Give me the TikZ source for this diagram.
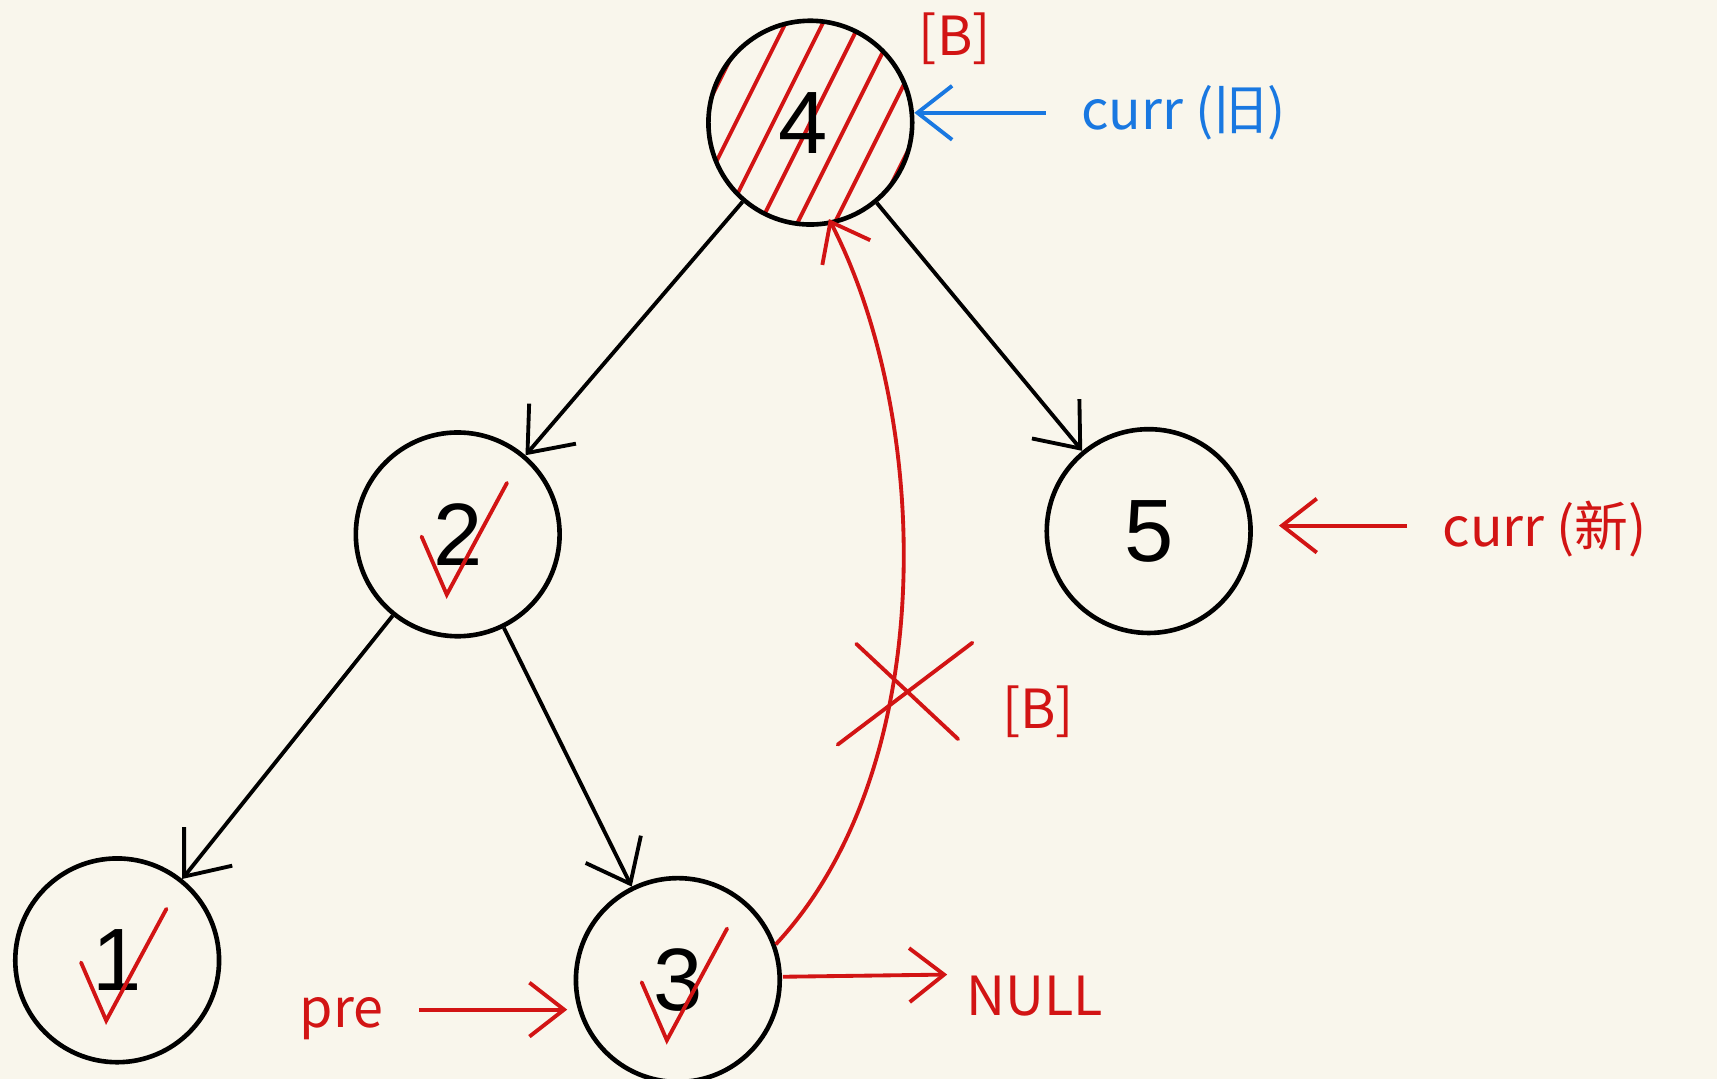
\documentclass[tikz,border=0pt]{standalone}
\usepackage{fontspec}
\setmainfont{Liberation Sans}
\newfontfamily\cjk{Noto Sans CJK SC}
\usetikzlibrary{arrows.meta}
\definecolor{bg}{RGB}{249,246,236}
\definecolor{hred}{RGB}{210,20,20}
\definecolor{hblue}{RGB}{25,120,225}
\begin{document}
\begin{tikzpicture}[x=0.01cm,y=-0.01cm,
  tnode/.style={circle,draw=black,line width=1.2pt,minimum size=1.86cm,inner sep=0pt,font=\fontsize{23}{23}\selectfont},
  edge/.style={draw=black,line width=1pt,-{Straight Barb[length=10pt,width=16pt]}},
  redarr/.style={draw=hred,line width=1pt,-{Straight Barb[length=9pt,width=14pt]}},
  redline/.style={draw=hred,line width=1pt,line cap=round},
  lbl/.style={font=\fontsize{14}{14}\selectfont\cjk}]
\fill[bg] (0,0) rectangle (1568,985);
\useasboundingbox (0,0) rectangle (1568,985);
\begin{scope}
\clip (740,112) circle (93);
\foreach \i in {-5,...,5} \draw[redline] (740+\i*34-55,222) -- (740+\i*34+55,2);
\end{scope}
\node[font=\fontsize{23}{23}\selectfont] (l4) at (733,112) {4};
\node[tnode] (n4) at (740,112) {};
\node[tnode] (n2) at (418,488) {2};
\node[tnode] (n5) at (1049,485) {5};
\node[tnode] (n1) at (107,877) {1};
\node[tnode] (n3) at (619,895) {3};
% checks
\foreach \cx/\cy in {418/488,107/877,619/895}
  \draw[redline] (\cx-33,\cy+2) -- (\cx-10,\cy+55) -- (\cx+45,\cy-47);
\draw[edge] (n4) -- (n2);
\draw[edge] (n4) -- (n5);
\draw[edge] (n2) -- (n1);
\draw[edge] (n2) -- (n3);
\coordinate (top) at (757,200);
\draw[redarr] (n3.20) .. controls (860,700) and (850,380) .. (top);
\draw[redline] (765,680) -- (888,587);
\draw[redline] (782,588) -- (875,675);
\node[lbl,text=hred] (b1) at (872,35) {[B]};
\node[lbl,text=hred] (b2) at (948,650) {[B]};
\coordinate (cb) at (955,103);
\coordinate (cbe) at (835,103);
\draw[draw=hblue,line width=1pt,-{Straight Barb[length=9pt,width=14pt]}] (cb) -- (cbe);
\node[lbl,text=hblue,anchor=west] (co) at (975,103) {curr (旧)};
\coordinate (cn) at (1285,480);
\coordinate (cne) at (1168,480);
\draw[redarr] (cn) -- (cne);
\node[lbl,text=hred,anchor=west] (cw) at (1305,483) {curr (新)};
\node[lbl,text=hred] (pre) at (312,930) {pre};
\coordinate (pa) at (383,922);
\coordinate (pb) at (518,922);
\draw[redarr] (pa) -- (pb);
\node[lbl,text=hred,anchor=west] (null) at (870,910) {NULL};
\coordinate (na) at (715,892);
\coordinate (nb) at (865,890);
\draw[redarr] (na) -- (nb);
\end{tikzpicture}
\end{document}
